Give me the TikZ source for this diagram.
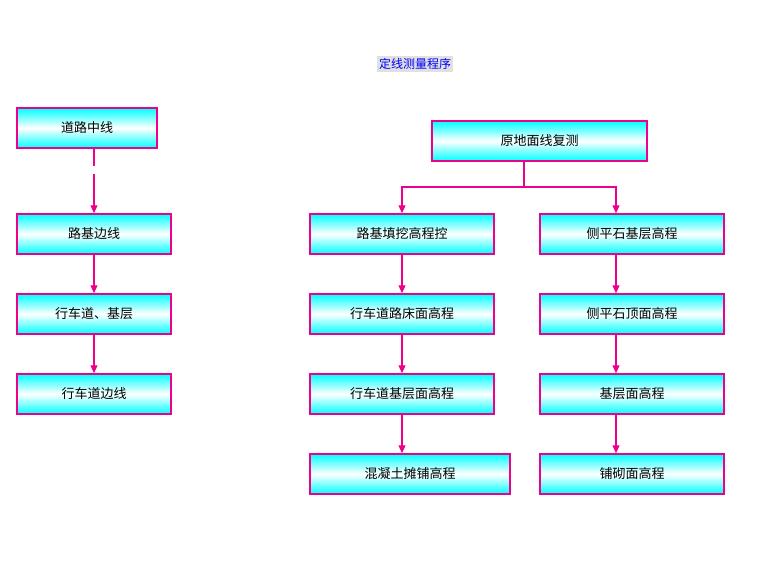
\documentclass[tikz,border=0pt]{standalone}
\usepackage{fontspec}
\newfontfamily\cjk{Noto Sans CJK SC}
\usetikzlibrary{arrows.meta}
\begin{document}
\begin{tikzpicture}[x=1pt,y=-1pt]
\tikzstyle{stepbox}=[draw=magenta,line width=1.5pt,top color=cyan,bottom color=cyan,middle color=white,minimum height=40pt,inner sep=0pt,font=\cjk\fontsize{13}{13}\selectfont]
\tikzstyle{link}=[magenta,line width=1.2pt]
\tikzstyle{arr}=[link,-{Triangle[length=8pt,width=7pt]}]
\useasboundingbox (0,0) rectangle (760,570);
\node[fill=black!12,inner sep=2pt,text=blue,font=\cjk\fontsize{12}{12}\selectfont] (title) at (415,64) {定线测量程序};
% left column
\node[stepbox,minimum width=140pt] (center) at (87,128) {道路中线};
\node[stepbox,minimum width=154pt] (edge1) at (94,234) {路基边线};
\node[stepbox,minimum width=154pt] (lane) at (94,314) {行车道、基层};
\node[stepbox,minimum width=154pt] (edge2) at (94,394) {行车道边线};
\coordinate (gapA) at (94,166);
\coordinate (gapB) at (94,174);
\draw[link] (center.south -| gapA) -- (gapA);
\draw[arr] (gapB) -- (edge1);
\draw[arr] (edge1) -- (lane);
\draw[arr] (lane) -- (edge2);
% right part
\node[stepbox,minimum width=215pt] (orig) at (539.5,141) {原地面线复测};
\node[stepbox,minimum width=184pt] (m1) at (402,234) {路基填挖高程控};
\node[stepbox,minimum width=184pt] (m2) at (402,314) {行车道路床面高程};
\node[stepbox,minimum width=184pt] (m3) at (402,394) {行车道基层面高程};
\node[stepbox,minimum width=200pt] (m4) at (410,474) {混凝土摊铺高程};
\node[stepbox,minimum width=184pt] (r1) at (632,234) {侧平石基层高程};
\node[stepbox,minimum width=184pt] (r2) at (632,314) {侧平石顶面高程};
\node[stepbox,minimum width=184pt] (r3) at (632,394) {基层面高程};
\node[stepbox,minimum width=184pt] (r4) at (632,474) {铺砌面高程};
\coordinate (split) at (524,187);
\draw[link] (orig.south -| split) -- (split);
\draw[arr] (split) -| (m1.north);
\draw[arr] (split) -| ([xshift=-16pt]r1.north);
\draw[arr] (m1) -- (m2);
\draw[arr] (m2) -- (m3);
\draw[arr] (m3) -- (m3 |- m4.north);
\draw[arr] ([xshift=-16pt]r1.south) -- ([xshift=-16pt]r2.north);
\draw[arr] ([xshift=-16pt]r2.south) -- ([xshift=-16pt]r3.north);
\draw[arr] ([xshift=-16pt]r3.south) -- ([xshift=-16pt]r4.north);
\end{tikzpicture}
\end{document}
